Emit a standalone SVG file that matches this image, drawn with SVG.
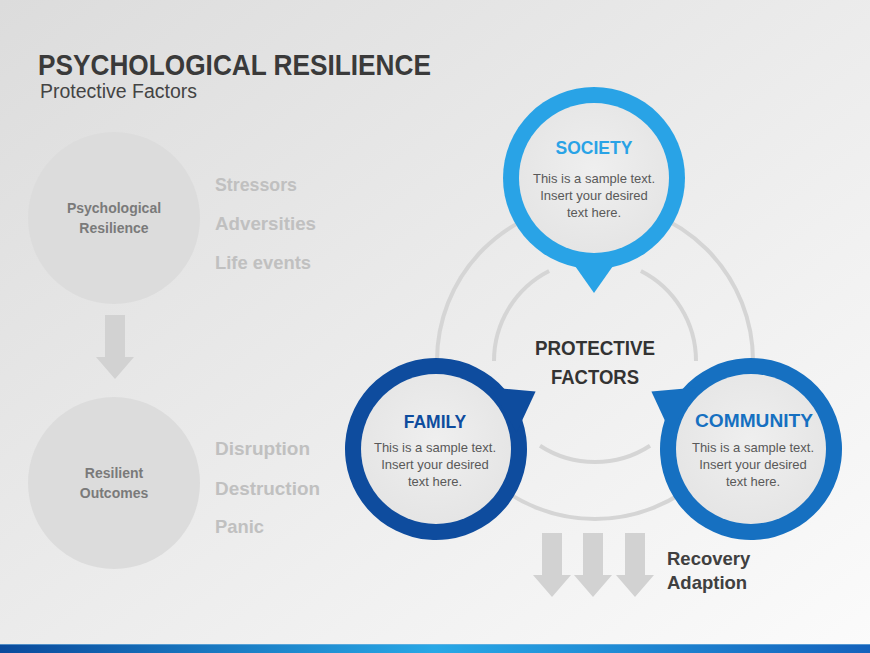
<svg xmlns="http://www.w3.org/2000/svg" width="870" height="653" viewBox="0 0 870 653">
  <defs>
    <linearGradient id="bg" x1="0" y1="0" x2="1" y2="1">
      <stop offset="0" stop-color="#DCDCDC"/>
      <stop offset="0.55" stop-color="#EDEDED"/>
      <stop offset="1" stop-color="#FBFBFB"/>
    </linearGradient>
    <linearGradient id="band" x1="0" y1="0" x2="1" y2="0">
      <stop offset="0" stop-color="#0A4A9C"/>
      <stop offset="0.5" stop-color="#28A8E6"/>
      <stop offset="1" stop-color="#1462BC"/>
    </linearGradient>
    <radialGradient id="inner" cx="0.5" cy="0.45" r="0.6">
      <stop offset="0" stop-color="#EFEFEF"/>
      <stop offset="1" stop-color="#E4E4E4"/>
    </radialGradient>
    <g id="pin">
      <circle r="91"/>
      <path d="M-26 78 L0 115 L26 78 Z"/>
    </g>
    <path id="arrowDown" d="M-10 0 H10 V42 H19 L0 64 L-19 42 H-10 Z"/>
  </defs>
  <style>
    .t { font-family: "Liberation Sans", Arial, sans-serif; }
    .b { font-weight: bold; }
    .gray { fill: #C0C0C0; font-size: 19px; font-weight: bold; }
    .circ { fill: #7A7A7A; font-size: 14px; font-weight: bold; text-anchor: middle; }
    .body { fill: #595959; font-size: 13px; text-anchor: middle; }
    .head { font-size: 17.5px; font-weight: bold; text-anchor: middle; }
    .ring { fill: none; stroke: #D5D5D5; stroke-width: 4; }
    .arr { fill: #D2D2D2; }
  </style>

  <rect width="870" height="653" fill="url(#bg)"/>
  <rect y="644" width="870" height="9" fill="url(#band)"/>
  <rect y="644" width="870" height="1" fill="#7FB8E0" opacity="0.6"/>

  <g id="title">
    <text class="t b" x="38" y="75" font-size="30" fill="#3A3A3A" textLength="393" lengthAdjust="spacingAndGlyphs">PSYCHOLOGICAL RESILIENCE</text>
    <text class="t" x="40" y="98" font-size="20" fill="#444444" textLength="157" lengthAdjust="spacingAndGlyphs">Protective Factors</text>
  </g>

  <g id="node-psychological-resilience">
    <circle cx="114" cy="218" r="86" fill="#DCDCDC"/>
    <text class="t circ" x="114" y="213">Psychological</text>
    <text class="t circ" x="114" y="233">Resilience</text>
  </g>
  <g id="list-stressors">
    <text class="t gray" x="215" y="191" textLength="82" lengthAdjust="spacingAndGlyphs">Stressors</text>
    <text class="t gray" x="215" y="230" textLength="101" lengthAdjust="spacingAndGlyphs">Adversities</text>
    <text class="t gray" x="215" y="269" textLength="96" lengthAdjust="spacingAndGlyphs">Life events</text>
  </g>

  <g id="node-resilient-outcomes">
    <circle cx="114" cy="483" r="86" fill="#DCDCDC"/>
    <text class="t circ" x="114" y="478">Resilient</text>
    <text class="t circ" x="114" y="498">Outcomes</text>
  </g>
  <g id="list-outcomes">
    <text class="t gray" x="215" y="455" textLength="95" lengthAdjust="spacingAndGlyphs">Disruption</text>
    <text class="t gray" x="215" y="495" textLength="105" lengthAdjust="spacingAndGlyphs">Destruction</text>
    <text class="t gray" x="215" y="533" textLength="49" lengthAdjust="spacingAndGlyphs">Panic</text>
  </g>

  <g id="rings">
    <circle class="ring" cx="595" cy="361" r="158"/>
    <path class="ring" d="M494 361 A101 101 0 0 1 549.1 271"/>
    <path class="ring" d="M640.9 271 A101 101 0 0 1 696 361"/>
    <path class="ring" d="M650 445.7 A101 101 0 0 1 540 445.7"/>
  </g>

  <g id="connectors">
    <use href="#arrowDown" class="arr" transform="translate(115 315)"/>
    <use href="#arrowDown" class="arr" transform="translate(552 533)"/>
    <use href="#arrowDown" class="arr" transform="translate(593 533)"/>
    <use href="#arrowDown" class="arr" transform="translate(635 533)"/>
  </g>

  <g id="center-label">
    <text class="t b" x="595" y="355" font-size="20" fill="#333333" text-anchor="middle" textLength="120" lengthAdjust="spacingAndGlyphs">PROTECTIVE</text>
    <text class="t b" x="595" y="384" font-size="20" fill="#333333" text-anchor="middle" textLength="88" lengthAdjust="spacingAndGlyphs">FACTORS</text>
  </g>

  <g id="node-society">
    <use href="#pin" fill="#29A3E6" transform="translate(594 178)"/>
    <circle cx="594" cy="178" r="75" fill="url(#inner)"/>
    <text class="t head" x="594" y="154" fill="#29A3E6">SOCIETY</text>
    <text class="t body" x="594" y="183">This is a sample text.</text>
    <text class="t body" x="594" y="200">Insert your desired</text>
    <text class="t body" x="594" y="217">text here.</text>
  </g>

  <g id="node-family">
    <use href="#pin" fill="#0E4C9E" transform="translate(436 449) rotate(-120)"/>
    <circle cx="436" cy="449" r="75" fill="url(#inner)"/>
    <text class="t head" x="435" y="428" fill="#0E4C9E">FAMILY</text>
    <text class="t body" x="435" y="452">This is a sample text.</text>
    <text class="t body" x="435" y="469">Insert your desired</text>
    <text class="t body" x="435" y="486">text here.</text>
  </g>

  <g id="node-community">
    <use href="#pin" fill="#1670C1" transform="translate(751 449) rotate(120)"/>
    <circle cx="751" cy="449" r="75" fill="url(#inner)"/>
    <text class="t head" x="754" y="427" fill="#1670C1" textLength="118" lengthAdjust="spacingAndGlyphs">COMMUNITY</text>
    <text class="t body" x="753" y="452">This is a sample text.</text>
    <text class="t body" x="753" y="469">Insert your desired</text>
    <text class="t body" x="753" y="486">text here.</text>
  </g>

  <g id="recovery-label">
    <text class="t b" x="667" y="565" font-size="18.5" fill="#404040">Recovery</text>
    <text class="t b" x="667" y="589" font-size="18.5" fill="#404040">Adaption</text>
  </g>
</svg>
